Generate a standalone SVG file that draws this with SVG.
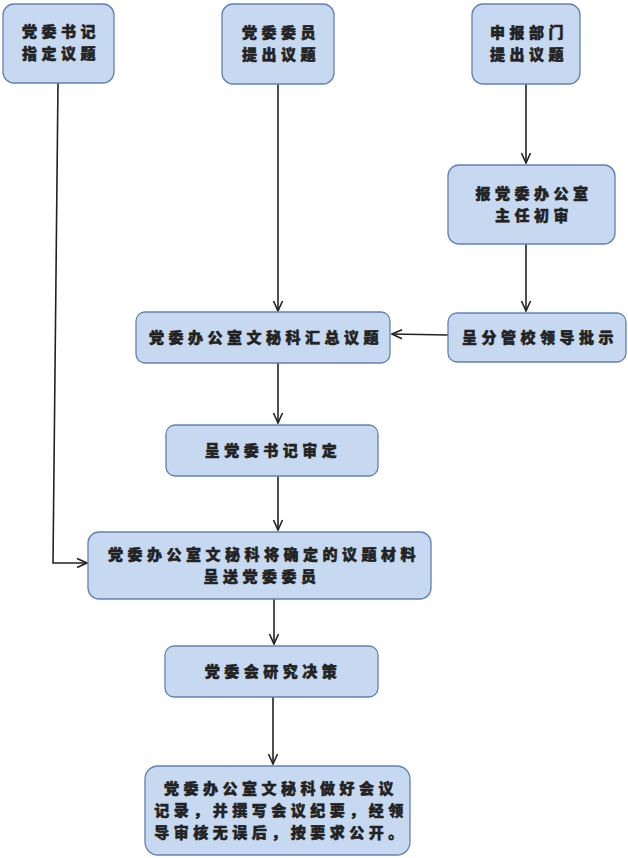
<svg xmlns="http://www.w3.org/2000/svg" width="628" height="858" viewBox="0 0 628 858">
<defs>
<style>
.box{fill:#c6d9f1;stroke:#6281b3;stroke-width:1.3}
.t{font-family:"Noto Sans CJK SC","Noto Sans CJK JP",sans-serif;font-size:15px;font-weight:900;fill:#222;stroke:#222;stroke-width:0.5px;text-anchor:middle;letter-spacing:4.5px}
.c{fill:none;stroke:#222;stroke-width:1.6}
</style>
<marker id="ar" viewBox="0 0 12 12" refX="11" refY="6" markerWidth="12" markerHeight="12" markerUnits="userSpaceOnUse" orient="auto">
<path d="M1,1.5 L11,6 L1,10.5" fill="none" stroke="#222" stroke-width="1.6"/>
</marker>
</defs>
<rect width="628" height="858" fill="#fff"/>
<g id="connectors">
<path class="c" d="M58,83 L53,563 L87,563" marker-end="url(#ar)"/>
<path class="c" d="M278,84 L278,311" marker-end="url(#ar)"/>
<path class="c" d="M526,84 L526,163" marker-end="url(#ar)"/>
<path class="c" d="M526,244 L526,311" marker-end="url(#ar)"/>
<path class="c" d="M448,335 L392,334" marker-end="url(#ar)"/>
<path class="c" d="M278,363 L278,423" marker-end="url(#ar)"/>
<path class="c" d="M278,476 L278,530" marker-end="url(#ar)"/>
<path class="c" d="M274,599 L274,644" marker-end="url(#ar)"/>
<path class="c" d="M273,697 L273,764" marker-end="url(#ar)"/>
</g>
<g id="n1"><rect class="box" x="3" y="4" width="111" height="79" rx="11"/>
<text class="t" y="37"><tspan x="61">党委书记</tspan><tspan x="61" dy="22">指定议题</tspan></text></g>
<g id="n2"><rect class="box" x="222" y="4" width="112" height="80" rx="11"/>
<text class="t" y="38"><tspan x="281">党委委员</tspan><tspan x="281" dy="22">提出议题</tspan></text></g>
<g id="n3"><rect class="box" x="472" y="4" width="108" height="80" rx="11"/>
<text class="t" y="38"><tspan x="529">申报部门</tspan><tspan x="529" dy="22">提出议题</tspan></text></g>
<g id="n4"><rect class="box" x="448" y="165" width="167" height="79" rx="11"/>
<text class="t" y="199"><tspan x="534">报党委办公室</tspan><tspan x="534" dy="22">主任初审</tspan></text></g>
<g id="n5"><rect class="box" x="448" y="313" width="178" height="49" rx="9"/>
<text class="t" x="540" y="343">呈分管校领导批示</text></g>
<g id="n6"><rect class="box" x="136" y="312" width="254" height="51" rx="9"/>
<text class="t" x="266" y="343">党委办公室文秘科汇总议题</text></g>
<g id="n7"><rect class="box" x="166" y="425" width="212" height="51" rx="9"/>
<text class="t" x="273" y="456">呈党委书记审定</text></g>
<g id="n8"><rect class="box" x="88" y="532" width="343" height="67" rx="11"/>
<text class="t" y="560"><tspan x="264">党委办公室文秘科将确定的议题材料</tspan><tspan x="262" dy="21.8">呈送党委委员</tspan></text></g>
<g id="n9"><rect class="box" x="165" y="646" width="213" height="51" rx="9"/>
<text class="t" x="273" y="677">党委会研究决策</text></g>
<g id="n10"><rect class="box" x="145" y="766" width="265" height="89" rx="13"/>
<text class="t" y="794"><tspan x="281">党委办公室文秘科做好会议</tspan><tspan x="281" dy="21.8">记录，并撰写会议纪要，经领</tspan><tspan x="281" dy="21.8">导审核无误后，按要求公开。</tspan></text></g>
</svg>
